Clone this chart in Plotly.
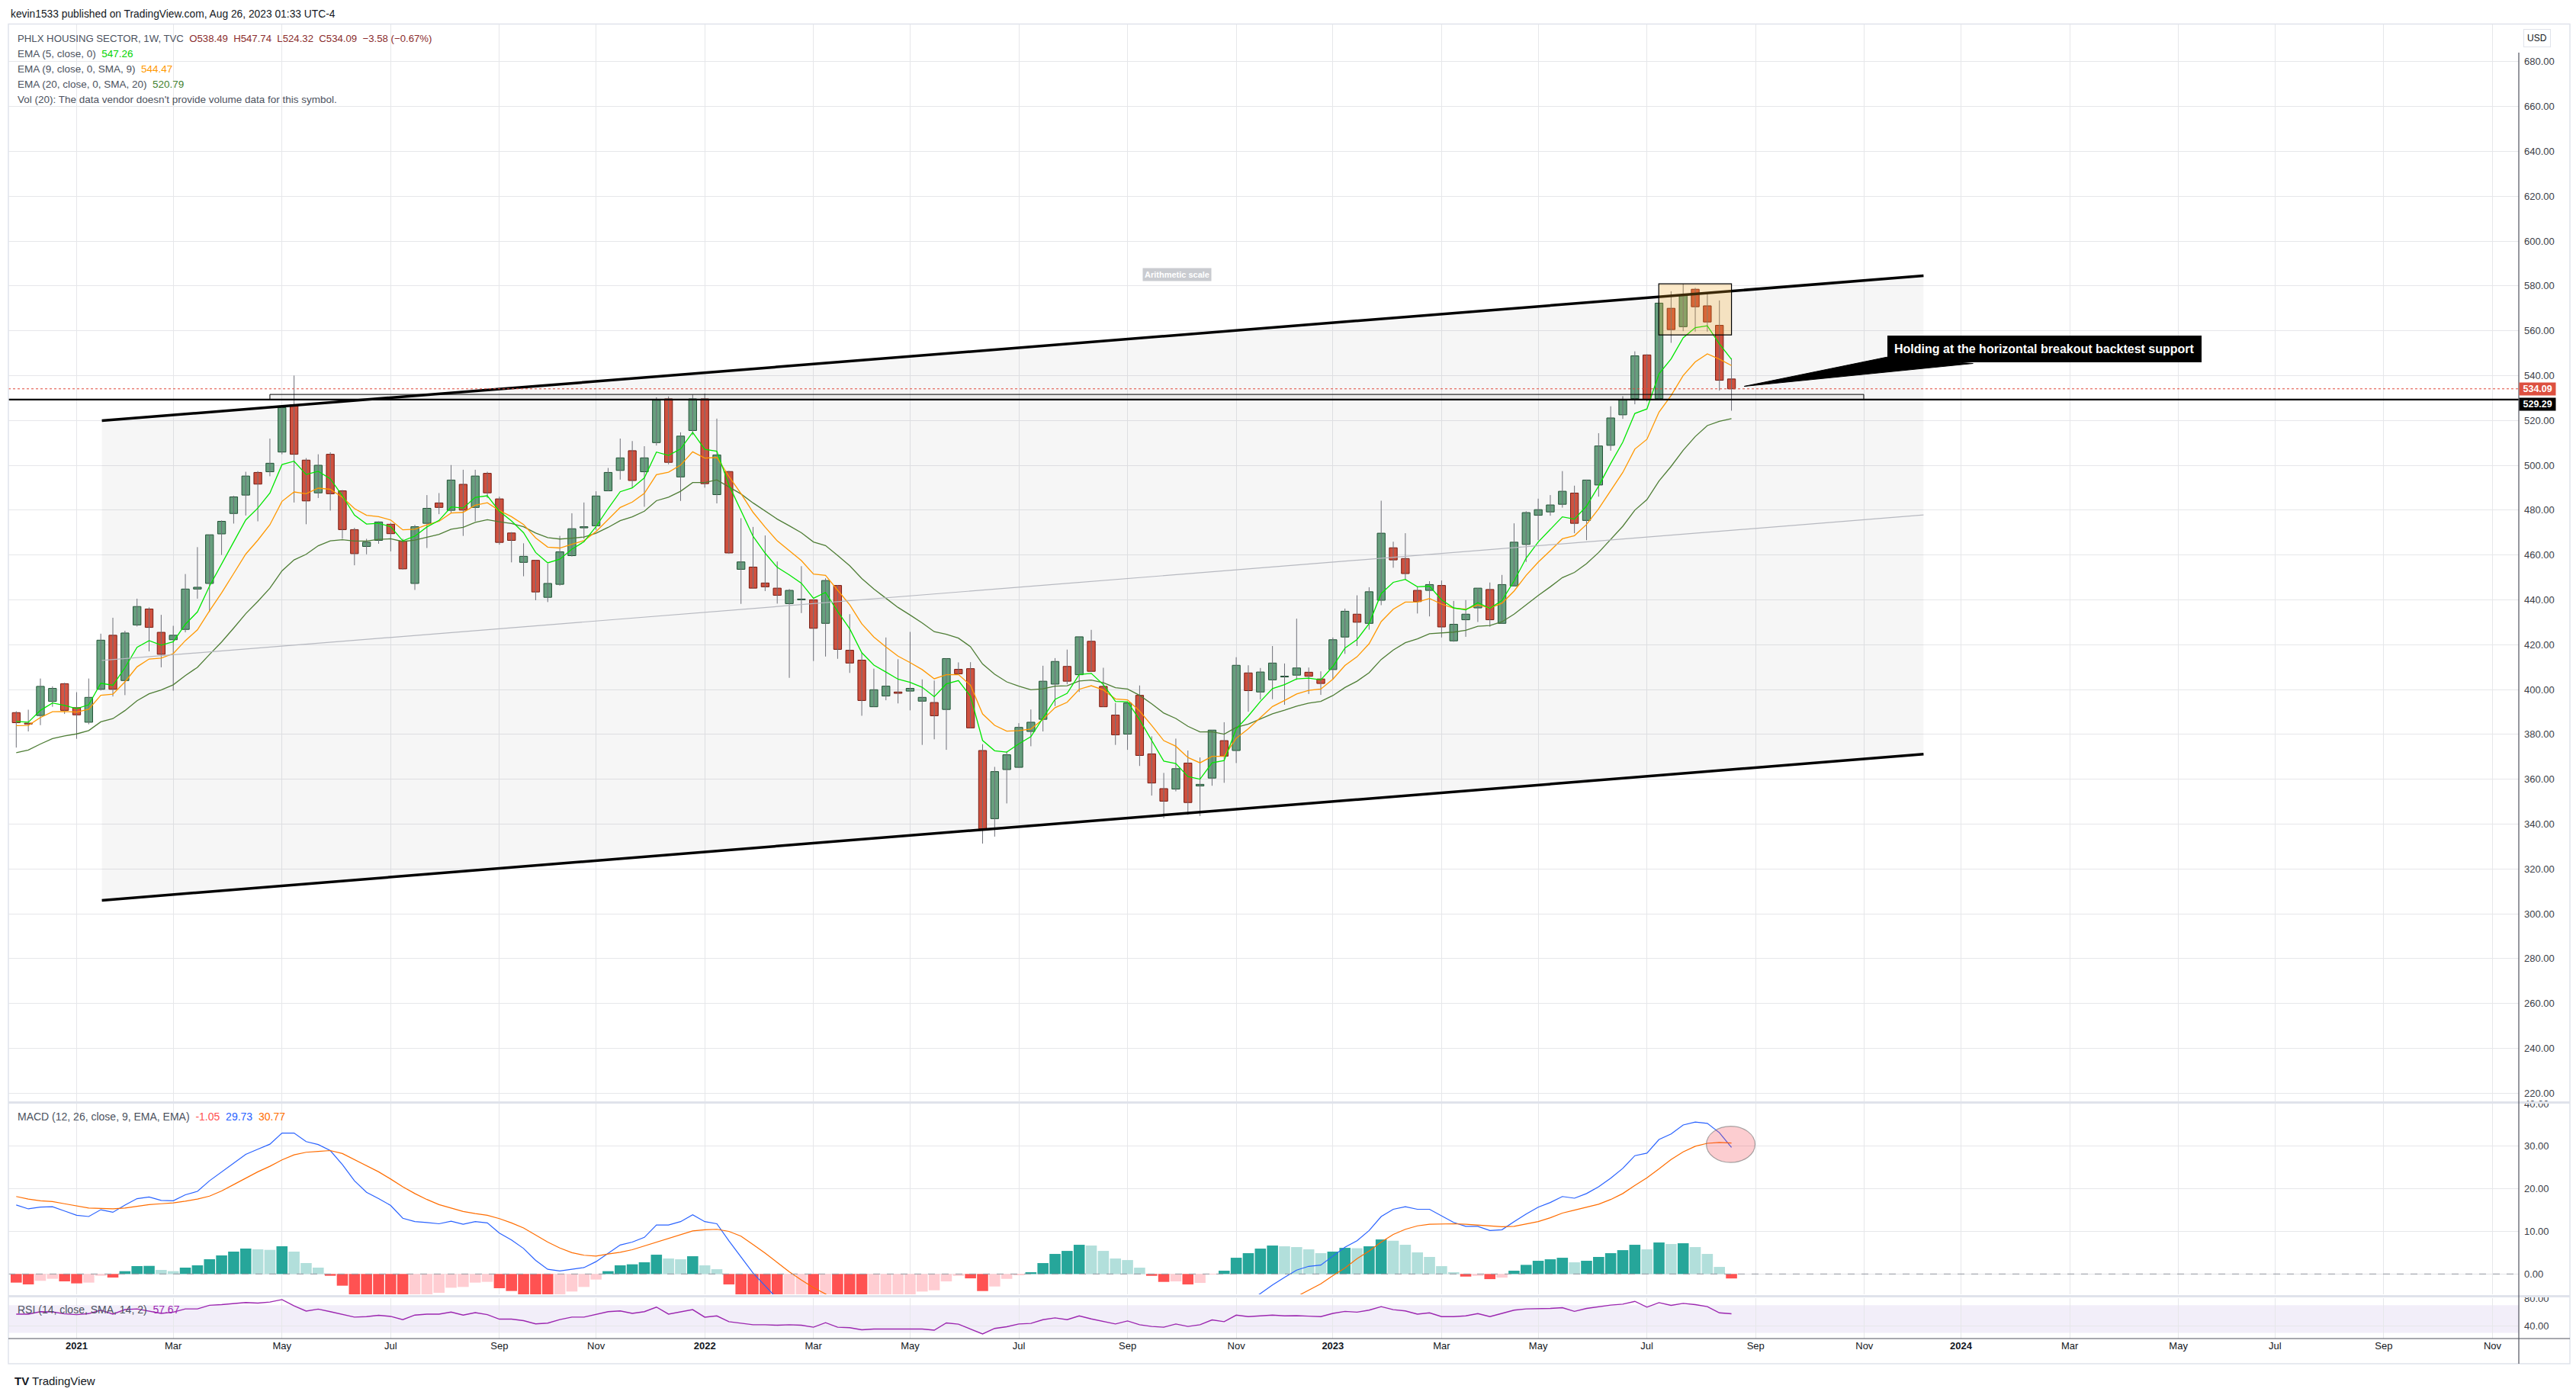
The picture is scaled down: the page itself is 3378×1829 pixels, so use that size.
import pandas as pd
import plotly.graph_objects as go

# ---------------------------------------------------------------- data
WEEK_START = "2020-11-30"      # first visible weekly bar (Monday)
N_BARS = 143
dates = pd.date_range(WEEK_START, periods=N_BARS, freq="7D")

opens = [
    389.7, 385.0, 388.4, 394.7, 402.6, 391.9, 385.4, 400.1, 424.2, 404.0,
    428.8, 435.9, 425.5, 422.2, 426.8, 444.8, 447.3, 469.4, 478.5, 486.7,
    496.8, 497.1, 505.9, 527.0, 502.3, 487.7, 504.9, 488.6, 471.3, 463.8,
    466.5, 473.7, 466.2, 447.3, 474.1, 483.2, 479.9, 491.5, 481.2, 496.4,
    485.0, 469.8, 456.7, 457.6, 441.1, 446.9, 459.7, 472.1, 473.0, 488.6,
    497.7, 506.5, 497.1, 510.1, 529.6, 494.8, 515.5, 529.6, 486.9, 497.2,
    453.6, 454.6, 447.5, 445.2, 438.3, 440.0, 440.0, 429.5, 446.4, 417.5,
    413.1, 392.3, 397.1, 398.9, 399.3, 394.8, 394.2, 391.1, 409.0, 409.3,
    372.8, 342.4, 364.3, 365.3, 381.3, 386.7, 402.4, 410.3, 406.6, 421.5,
    401.4, 388.6, 380.1, 397.4, 371.3, 355.8, 355.6, 367.2, 357.0, 360.5,
    377.2, 372.8, 407.4, 398.9, 404.3, 405.6, 406.4, 407.7, 404.7, 408.9,
    423.4, 433.6, 429.5, 439.8, 463.2, 458.4, 444.2, 444.2, 446.4, 421.7,
    431.1, 436.4, 444.6, 429.5, 446.2, 464.7, 477.7, 479.2, 482.6, 487.6,
    475.4, 491.2, 508.9, 522.5, 529.7, 549.2, 529.7, 570.0, 561.8, 578.5,
    571.1, 562.4, 538.49,
]
highs = [
    390.3, 391.0, 404.9, 401.4, 403.0, 398.8, 404.9, 424.9, 432.0, 426.2,
    440.5, 436.6, 433.3, 428.4, 451.5, 463.5, 469.0, 475.4, 486.4, 497.1,
    497.4, 511.9, 526.0, 540.0, 503.2, 504.9, 505.8, 489.0, 472.1, 467.2,
    475.0, 474.3, 467.2, 473.4, 486.7, 487.6, 500.1, 498.0, 498.0, 497.1,
    486.0, 470.2, 465.2, 457.6, 456.1, 468.5, 478.6, 483.4, 488.4, 498.8,
    511.9, 510.8, 508.5, 530.3, 530.7, 514.7, 531.5, 532.0, 520.8, 497.5,
    476.4, 472.5, 468.7, 457.1, 444.8, 455.0, 440.2, 449.6, 446.5, 433.6,
    416.3, 409.3, 423.2, 413.5, 425.7, 404.5, 404.0, 413.8, 412.1, 412.2,
    375.6, 365.5, 372.5, 385.0, 391.1, 410.6, 414.0, 417.8, 423.5, 426.6,
    409.7, 394.0, 394.0, 401.8, 379.1, 362.8, 378.1, 372.8, 369.7, 381.9,
    385.4, 414.4, 410.8, 409.6, 419.4, 411.6, 431.6, 409.8, 408.1, 423.2,
    436.1, 442.0, 445.6, 484.2, 465.9, 469.7, 445.8, 448.3, 448.6, 439.5,
    439.9, 445.2, 447.7, 451.1, 474.1, 479.5, 485.1, 486.7, 497.4, 490.9,
    493.6, 514.3, 526.3, 530.8, 550.8, 549.5, 573.2, 577.6, 580.9, 579.1,
    576.8, 573.5, 547.74,
]
lows = [
    374.1, 381.3, 384.1, 392.3, 389.1, 378.0, 384.5, 399.5, 396.9, 397.5,
    428.1, 417.0, 409.9, 399.5, 425.5, 440.5, 434.6, 460.0, 474.0, 477.6,
    475.0, 495.1, 504.9, 483.4, 473.7, 485.4, 479.8, 467.2, 455.4, 460.3,
    465.0, 461.6, 453.5, 444.4, 463.1, 478.2, 478.9, 468.5, 475.0, 485.4,
    464.6, 456.7, 450.5, 439.8, 439.0, 446.3, 459.3, 467.2, 471.1, 488.4,
    493.6, 490.0, 481.5, 508.8, 500.4, 484.1, 513.5, 490.0, 483.0, 460.5,
    438.2, 445.0, 443.9, 438.3, 405.2, 434.1, 412.7, 414.7, 413.7, 407.4,
    388.3, 392.3, 395.2, 393.8, 390.7, 375.3, 377.8, 373.1, 406.8, 382.9,
    331.3, 334.4, 349.2, 365.0, 374.7, 381.3, 392.6, 402.4, 398.9, 407.8,
    392.3, 375.3, 373.1, 365.9, 352.7, 342.6, 354.6, 344.1, 343.6, 357.1,
    358.4, 367.2, 390.1, 395.5, 395.7, 393.2, 404.3, 398.0, 397.6, 404.5,
    415.9, 419.4, 426.7, 437.6, 454.3, 449.0, 433.9, 432.6, 423.2, 421.3,
    423.5, 430.1, 428.0, 429.5, 446.2, 456.9, 466.6, 477.5, 481.1, 469.7,
    466.6, 486.0, 506.5, 520.7, 527.2, 528.5, 529.0, 554.6, 559.8, 559.6,
    559.6, 533.3, 524.32,
]
closes = [
    385.2, 384.6, 401.4, 400.5, 390.7, 388.7, 396.5, 422.0, 400.1, 425.2,
    437.0, 427.7, 415.7, 424.2, 444.8, 445.6, 469.0, 475.0, 485.9, 495.2,
    491.6, 500.9, 525.7, 504.9, 484.1, 500.0, 487.3, 471.3, 460.6, 465.7,
    474.7, 469.5, 453.8, 472.6, 480.8, 481.2, 493.4, 480.0, 495.2, 487.7,
    465.6, 466.5, 459.4, 443.5, 447.3, 461.4, 471.7, 472.6, 486.3, 496.8,
    503.3, 493.2, 503.3, 529.0, 501.3, 513.0, 529.6, 491.8, 504.6, 460.9,
    456.9, 445.2, 445.8, 442.0, 444.2, 440.1, 427.3, 448.6, 417.9, 411.8,
    395.1, 399.9, 401.5, 398.3, 400.5, 396.5, 388.3, 413.8, 407.0, 382.9,
    337.9, 363.4, 370.9, 383.1, 385.4, 403.7, 412.5, 403.7, 423.5, 408.1,
    392.3, 379.8, 394.0, 370.6, 358.3, 350.2, 364.7, 349.6, 357.7, 381.9,
    370.3, 410.8, 399.5, 407.8, 411.8, 405.9, 409.6, 405.9, 402.7, 422.2,
    434.9, 430.0, 443.6, 469.7, 457.8, 451.7, 439.2, 446.8, 427.9, 429.1,
    433.6, 445.2, 431.1, 446.8, 465.7, 478.9, 480.2, 482.3, 488.4, 474.1,
    493.4, 508.6, 521.1, 529.4, 548.8, 529.2, 572.3, 560.5, 575.7, 570.7,
    563.9, 537.9, 534.09,
]
ema5 = [
    385.8, 385.4, 390.7, 394.0, 392.9, 391.5, 393.2, 402.8, 401.9, 409.7,
    418.8, 421.8, 419.8, 421.3, 429.1, 434.6, 446.1, 455.7, 465.8, 475.6,
    480.9, 487.6, 500.3, 501.8, 495.9, 497.3, 494.0, 486.4, 477.8, 473.8,
    474.1, 472.6, 466.3, 468.4, 472.5, 475.4, 481.4, 480.9, 485.7, 486.4,
    479.5, 475.2, 469.9, 461.1, 456.5, 458.1, 462.6, 465.9, 472.7, 480.7,
    488.2, 489.9, 494.4, 505.9, 504.4, 507.3, 514.7, 507.1, 506.3, 491.2,
    479.8, 468.3, 460.8, 454.5, 451.1, 447.4, 440.7, 443.3, 434.8, 427.1,
    416.4, 410.9, 407.8, 404.6, 403.2, 401.0, 396.8, 402.5, 404.0, 397.0,
    377.3, 372.7, 372.1, 375.8, 379.0, 387.2, 395.6, 398.3, 406.7, 407.2,
    402.2, 394.7, 394.5, 386.5, 377.1, 368.1, 367.0, 361.2, 360.0, 367.3,
    368.3, 382.5, 388.2, 394.7, 400.4, 402.2, 404.7, 405.1, 404.3, 410.3,
    418.5, 422.3, 429.4, 442.8, 447.8, 449.1, 445.8, 446.1, 440.0, 436.4,
    435.5, 438.7, 436.2, 439.7, 448.4, 458.6, 465.8, 471.3, 477.0, 476.0,
    481.8, 490.7, 500.8, 510.3, 523.1, 525.1, 540.8, 547.4, 556.8, 561.4,
    562.2, 554.1, 547.26,
]
ema9 = [
    383.9, 384.0, 387.5, 390.1, 390.2, 389.9, 391.2, 397.4, 397.9, 403.4,
    410.1, 413.6, 414.0, 416.0, 421.8, 426.6, 435.1, 443.1, 451.7, 460.4,
    466.6, 473.5, 483.9, 488.1, 487.3, 489.8, 489.3, 485.7, 480.7, 477.7,
    477.1, 475.6, 471.2, 471.5, 473.4, 475.0, 478.7, 479.0, 482.2, 483.3,
    479.8, 477.1, 473.6, 467.6, 463.5, 463.1, 464.8, 466.4, 470.4, 475.7,
    481.2, 483.6, 487.5, 495.8, 496.9, 500.1, 506.0, 503.2, 503.5, 495.0,
    487.4, 479.0, 472.4, 466.3, 461.9, 457.5, 451.5, 450.9, 444.3, 437.8,
    429.3, 423.4, 419.0, 414.9, 412.0, 408.9, 404.8, 406.6, 406.7, 401.9,
    389.1, 384.0, 381.4, 381.7, 382.4, 386.7, 391.9, 394.3, 400.1, 401.7,
    399.8, 395.8, 395.4, 390.4, 384.0, 377.2, 374.7, 369.7, 367.3, 370.2,
    370.2, 378.3, 382.5, 387.6, 392.4, 395.1, 398.0, 399.6, 400.2, 404.6,
    410.7, 414.6, 420.4, 430.3, 435.8, 439.0, 439.0, 440.6, 438.1, 436.3,
    435.8, 437.7, 436.4, 438.5, 443.9, 450.9, 456.8, 461.9, 467.2, 468.6,
    473.6, 480.6, 488.7, 496.8, 507.2, 511.6, 523.7, 531.1, 540.0, 546.1,
    549.7, 547.3, 544.47,
]
ema20 = [
    371.8, 373.0, 375.7, 378.1, 379.3, 380.2, 381.7, 385.6, 387.0, 390.6,
    395.0, 398.1, 399.8, 402.1, 406.2, 409.9, 415.6, 421.2, 427.4, 433.8,
    439.3, 445.2, 452.9, 457.8, 460.3, 464.1, 466.3, 466.8, 466.2, 466.2,
    467.0, 467.2, 466.0, 466.6, 467.9, 469.2, 471.5, 472.3, 474.5, 475.7,
    474.8, 474.0, 472.6, 469.8, 467.7, 467.1, 467.5, 468.0, 469.7, 472.3,
    475.3, 477.0, 479.5, 484.2, 485.8, 488.4, 492.3, 492.3, 493.5, 490.4,
    487.2, 483.2, 479.6, 476.0, 473.0, 469.9, 465.8, 464.2, 459.8, 455.2,
    449.5, 444.8, 440.7, 436.6, 433.2, 429.7, 425.8, 424.6, 422.9, 419.1,
    411.4, 406.8, 403.4, 401.5, 399.9, 400.3, 401.5, 401.7, 403.8, 404.2,
    403.0, 400.8, 400.2, 397.4, 393.6, 389.5, 387.1, 383.6, 381.1, 381.2,
    380.1, 383.1, 384.6, 386.8, 389.2, 390.8, 392.6, 393.9, 394.7, 397.3,
    400.9, 403.7, 407.5, 413.4, 417.6, 420.9, 422.6, 424.9, 425.2, 425.6,
    426.4, 428.2, 428.5, 430.2, 433.6, 437.9, 441.9, 445.8, 449.9, 452.2,
    456.1, 461.1, 466.8, 472.8, 480.0, 484.7, 493.0, 499.5, 506.7, 512.8,
    517.7, 519.6, 520.79,
]
macd_line = [
    16.2, 15.3, 15.7, 15.8, 14.8, 13.8, 13.5, 15.1, 14.5, 16.2,
    17.7, 18.1, 17.3, 17.2, 18.6, 19.4, 21.9, 24.0, 26.0, 28.1,
    29.3, 30.5, 33.1, 33.1, 31.1, 30.4, 29.0, 25.7, 21.9, 19.2,
    17.7, 16.1, 13.1, 12.3, 12.1, 11.8, 12.4, 11.7, 12.3, 12.0,
    9.6, 8.0, 6.0, 3.2, 1.1, 0.7, 1.1, 1.5, 2.9, 4.8,
    6.8, 7.5, 8.6, 11.5, 11.5, 12.3, 13.9, 12.3, 11.8, 7.8,
    3.9, 0.2, -2.8, -5.8, -7.5, -8.9, -11.2, -12.3, -14.8, -17.1,
    -20.3, -21.8, -22.8, -23.6, -24.0, -23.5, -24.2, -22.4, -21.3, -22.2,
    -25.9, -25.7, -24.6, -23.6, -22.9, -20.4, -17.4, -15.7, -12.9, -11.7,
    -11.8, -13.0, -12.8, -14.3, -16.3, -17.9, -17.6, -18.5, -18.2, -16.1,
    -14.7, -10.5, -6.5, -4.6, -2.6, -0.8, 0.9, 1.8, 2.1, 4.2,
    6.3, 7.8, 10.2, 13.5, 15.2, 15.8, 15.2, 15.2, 13.6, 12.1,
    11.2, 11.2, 10.2, 10.4, 12.3, 14.1, 15.7, 16.8, 18.2, 17.8,
    18.9, 20.5, 22.5, 24.8, 27.8, 28.4, 31.6, 32.9, 35.0, 35.7,
    35.4, 33.2, 29.73,
]
macd_signal = [
    18.2, 17.6, 17.2, 17.0, 16.5, 16.0, 15.5, 15.4, 15.3, 15.5,
    15.9, 16.3, 16.5, 16.7, 17.1, 17.6, 18.3, 19.5, 21.0, 22.5,
    24.0, 25.3, 26.8, 28.0, 28.6, 28.8, 29.0, 28.3, 26.9, 25.4,
    24.0, 22.3, 20.5, 18.9, 17.5, 16.3, 15.5, 14.7, 14.2, 13.8,
    13.0, 12.0, 10.8, 9.1, 7.5, 6.1, 5.0, 4.4, 4.2, 4.7,
    5.1, 5.7, 6.6, 7.5, 8.4, 9.2, 10.1, 10.4, 10.5, 10.0,
    8.9, 6.9, 4.9, 2.7, 0.5, -1.4, -3.2, -4.7, -6.7, -8.7,
    -11.0, -13.2, -15.1, -16.8, -18.1, -19.4, -20.4, -20.7, -20.9, -21.2,
    -21.9, -22.8, -23.4, -23.4, -23.3, -22.9, -22.1, -21.1, -19.7, -18.4,
    -17.2, -16.6, -16.1, -15.8, -15.9, -16.0, -15.9, -16.0, -16.1, -16.0,
    -15.6, -14.3, -12.6, -11.0, -9.3, -7.6, -5.3, -3.8, -2.3, -0.4,
    1.4, 3.6, 5.4, 7.5, 9.3, 10.5, 11.3, 11.7, 11.8, 11.8,
    11.7, 11.5, 11.2, 11.1, 11.2, 11.7, 12.3, 13.2, 14.3, 15.0,
    15.7, 16.4, 17.5, 18.9, 20.8, 22.6, 24.7, 26.9, 28.7, 30.0,
    30.7, 30.9, 30.77,
]
macd_hist = [
    -2.03, -2.45, -1.61, -1.13, -1.73, -2.21, -2.03, -0.42, -0.84, 0.66,
    1.85, 1.90, 0.96, 0.66, 1.49, 2.03, 3.46, 4.36, 5.26, 5.97,
    5.79, 5.67, 6.51, 5.26, 2.57, 1.49, -0.42, -2.75, -5.0, -6.2,
    -6.5, -6.8, -7.4, -6.6, -5.4, -4.42, -3.23, -3.05, -2.03, -1.85,
    -3.35, -4.0, -4.8, -5.9, -6.4, -5.4, -4.12, -3.05, -1.31, 0.66,
    2.03, 2.27, 2.75, 4.53, 3.63, 3.45, 4.17, 2.02, 1.12, -2.46,
    -5.2, -6.7, -7.7, -8.5, -8.0, -7.5, -8.0, -7.6, -8.2, -8.8,
    -9.5, -9.0, -8.3, -7.4, -6.0, -4.13, -3.83, -1.74, -0.43, -1.03,
    -4.01, -2.94, -1.15, -0.15, 0.41, 2.56, 4.71, 5.42, 6.86, 6.68,
    5.42, 3.63, 3.27, 1.48, -0.43, -1.86, -1.74, -2.46, -2.10, -0.10,
    0.77, 3.81, 4.89, 5.96, 6.68, 6.50, 6.32, 5.78, 4.89, 5.25,
    6.14, 6.05, 6.50, 8.11, 7.81, 6.86, 5.07, 4.00, 1.84, 0.41,
    -0.61, -0.43, -1.21, -0.85, 0.77, 2.14, 3.10, 3.45, 3.81, 2.74,
    3.10, 4.00, 4.89, 5.60, 6.86, 5.78, 7.40, 7.04, 7.22, 6.32,
    4.71, 1.66, -1.05,
]
rsi = [
    57.1, 57.1, 60.7, 60.4, 57.5, 56.4, 57.8, 62.9, 57.1, 63.7,
    64.7, 61.8, 58.2, 60.0, 64.7, 64.7, 69.9, 70.9, 72.8, 73.9,
    73.1, 74.6, 78.2, 69.1, 61.5, 64.4, 60.7, 56.4, 52.7, 53.5,
    55.3, 53.8, 49.1, 55.7, 57.1, 57.1, 60.0, 55.7, 59.3, 56.4,
    49.8, 49.8, 47.6, 42.9, 44.0, 49.1, 52.7, 52.7, 57.1, 60.7,
    61.8, 58.2, 60.7, 67.3, 57.1, 60.0, 63.6, 52.7, 54.5, 46.1,
    44.3, 41.7, 41.7, 41.0, 41.7, 41.0, 38.1, 44.7, 38.1, 37.4,
    34.4, 35.5, 35.5, 35.5, 36.3, 35.5, 33.7, 44.3, 42.5, 35.2,
    28.3, 36.3, 38.8, 42.8, 43.6, 49.0, 51.6, 49.0, 54.5, 50.1,
    46.1, 42.8, 47.2, 41.7, 39.2, 38.1, 42.8, 39.2, 41.7, 48.7,
    46.1, 55.6, 53.4, 54.5, 55.6, 54.5, 54.9, 54.1, 53.4, 58.1,
    61.1, 60.0, 62.9, 68.0, 63.6, 61.8, 57.0, 58.9, 53.4, 53.4,
    54.5, 57.8, 53.4, 58.1, 62.9, 64.7, 64.7, 65.4, 66.5, 61.1,
    65.4, 68.0, 70.2, 71.6, 75.6, 67.2, 73.8, 69.8, 72.7, 70.9,
    68.0, 58.9, 57.67,
]

tick_dates = [
    "2021-01-04", "2021-03-01", "2021-05-03", "2021-07-05", "2021-09-06", "2021-11-01",
    "2022-01-03", "2022-03-07", "2022-05-02", "2022-07-04", "2022-09-05", "2022-11-07",
    "2023-01-02", "2023-03-06", "2023-05-01", "2023-07-03", "2023-09-04", "2023-11-06",
    "2024-01-01", "2024-03-04", "2024-05-06", "2024-07-01", "2024-09-02", "2024-11-04",
]
tick_labels = [
    "2021", "Mar", "May", "Jul", "Sep", "Nov",
    "2022", "Mar", "May", "Jul", "Sep", "Nov",
    "2023", "Mar", "May", "Jul", "Sep", "Nov",
    "2024", "Mar", "May", "Jul", "Sep", "Nov",
]
price_ticks = [220, 240, 260, 280, 300, 320, 340, 360, 380, 400, 420, 440,
               460, 480, 500, 520, 540, 560, 580, 600, 620, 640, 660, 680]
macd_ticks = [0, 10, 20, 30, 40]
rsi_ticks = [40, 80]

LAST_PRICE = 534.09
HLINE_PRICE = 529.29

# ---------------------------------------------------------- drawing geometry
# (week offsets from the 2021-01-04 bar, prices / indicator values)
CH_WEEKS = (2.09, 152.9)
CH_UPPER = (519.9, 584.5)
CH_LOWER = (306.0, 371.2)
ZONE_WEEKS = (16.0, 147.95)
ZONE_PRICES = (529.3, 531.6)
BOX_WEEKS = (130.98, 137.0)
BOX_PRICES = (558.1, 580.9)
ELL_WEEKS = (134.92, 138.95)
ELL_VALUES = (26.2, 34.7)
CALLOUT_POS = (162.9, 551.9)
WEDGE_WEEKS = (138.05, 149.84, 157.0)
WEDGE_PRICES = (535.2, 548.2, 545.4)
ARITH_POS = (91.1, 585.2)

# ------------------------------------------------------------- layout helpers
W, H = 3378, 1829
PL, PR, PT, PB = 11, 3303, 32, 1755
BASE = pd.Timestamp("2021-01-04")
WEEK_MS = 7 * 24 * 3600 * 1000
FONT = "Liberation Sans, Arial, sans-serif"
GRID = "#e6e7ea"
TXT = "#131722"
LEG = "#4c525e"
NB = "\u00a0"


def wk(n):
    return BASE + pd.Timedelta(weeks=n)


def px(x):
    return (x - PL) / (PR - PL)


def py(y):
    return (PB - y) / (PB - PT)


fig = go.Figure()

# channel fill (parallelogram)
cx0, cx1 = wk(CH_WEEKS[0]), wk(CH_WEEKS[1])
fig.add_trace(go.Scatter(
    x=[cx0, cx1, cx1, cx0, cx0],
    y=[CH_UPPER[0], CH_UPPER[1], CH_LOWER[1], CH_LOWER[0], CH_UPPER[0]],
    mode="lines", fill="toself", fillcolor="rgba(0,0,0,0.035)",
    line=dict(width=0), hoverinfo="skip", xaxis="x", yaxis="y"))

# wicks
wx, wy = [], []
for d, h, l in zip(dates, highs, lows):
    wx += [d, d, None]
    wy += [l, h, None]
fig.add_trace(go.Scatter(x=wx, y=wy, mode="lines",
                         line=dict(color="#6f7079", width=1),
                         hoverinfo="skip", xaxis="x", yaxis="y"))

# candle bodies
is_up = [c >= o for o, c in zip(opens, closes)]
body_base = [min(o, c) for o, c in zip(opens, closes)]
body_h = [max(abs(c - o), 0.35) for o, c in zip(opens, closes)]
fig.add_trace(go.Bar(
    x=dates, y=body_h, base=body_base, width=0.65 * WEEK_MS,
    marker=dict(color=["#6ba583" if u else "#d75442" for u in is_up],
                line=dict(color=["#225437" if u else "#7a1c12" for u in is_up], width=1)),
    hoverinfo="skip", xaxis="x", yaxis="y"))

# EMAs
fig.add_trace(go.Scatter(x=dates, y=ema20, mode="lines",
                         line=dict(color="#4e7d35", width=1.3), xaxis="x", yaxis="y"))
fig.add_trace(go.Scatter(x=dates, y=ema9, mode="lines",
                         line=dict(color="#ff9800", width=1.3), xaxis="x", yaxis="y"))
fig.add_trace(go.Scatter(x=dates, y=ema5, mode="lines",
                         line=dict(color="#00e600", width=1.3), xaxis="x", yaxis="y"))

# callout wedge
fig.add_trace(go.Scatter(
    x=[wk(w) for w in WEDGE_WEEKS] + [wk(WEDGE_WEEKS[0])],
    y=list(WEDGE_PRICES) + [WEDGE_PRICES[0]],
    mode="lines", fill="toself", fillcolor="#000000",
    line=dict(width=1, color="#000000"), hoverinfo="skip", xaxis="x", yaxis="y"))

# MACD histogram
hist_colors = []
prev = None
for v in macd_hist:
    if v >= 0:
        hist_colors.append("#26a69a" if (prev is None or v > prev) else "#b2dfdb")
    else:
        hist_colors.append("#ffcdd2" if (prev is not None and v > prev) else "#ff5252")
    prev = v
fig.add_trace(go.Bar(x=dates, y=macd_hist, width=0.92 * WEEK_MS,
                     marker=dict(color=hist_colors, line=dict(width=0)),
                     hoverinfo="skip", xaxis="x", yaxis="y2"))
fig.add_trace(go.Scatter(x=dates, y=macd_line, mode="lines",
                         line=dict(color="#2962ff", width=1.2), xaxis="x", yaxis="y2"))
fig.add_trace(go.Scatter(x=dates, y=macd_signal, mode="lines",
                         line=dict(color="#ff6d00", width=1.2), xaxis="x", yaxis="y2"))

# RSI
fig.add_trace(go.Scatter(x=dates, y=rsi, mode="lines",
                         line=dict(color="#9c27b0", width=1.4), xaxis="x", yaxis="y3"))

# ------------------------------------------------------------------ shapes
shapes = []
shapes.append(dict(type="rect", xref="paper", yref="y3", x0=0, x1=1, y0=30, y1=70,
                   fillcolor="rgba(126,87,194,0.10)", line=dict(width=0), layer="below"))
shapes.append(dict(type="line", xref="x", yref="y", x0=cx0, x1=cx1,
                   y0=CH_UPPER[0], y1=CH_UPPER[1], line=dict(color="#000000", width=3.5)))
shapes.append(dict(type="line", xref="x", yref="y", x0=cx0, x1=cx1,
                   y0=CH_LOWER[0], y1=CH_LOWER[1], line=dict(color="#000000", width=3.5)))
shapes.append(dict(type="line", xref="x", yref="y", x0=cx0, x1=cx1,
                   y0=(CH_UPPER[0] + CH_LOWER[0]) / 2, y1=(CH_UPPER[1] + CH_LOWER[1]) / 2,
                   line=dict(color="#b7b9c0", width=1.2)))
shapes.append(dict(type="rect", xref="x", yref="y", x0=wk(ZONE_WEEKS[0]), x1=wk(ZONE_WEEKS[1]),
                   y0=ZONE_PRICES[0], y1=ZONE_PRICES[1],
                   fillcolor="rgba(0,0,0,0.04)", line=dict(color="#000000", width=1)))
shapes.append(dict(type="line", xref="paper", yref="y", x0=0, x1=1,
                   y0=HLINE_PRICE, y1=HLINE_PRICE, line=dict(color="#000000", width=2.2)))
shapes.append(dict(type="line", xref="paper", yref="y", x0=0, x1=1,
                   y0=LAST_PRICE, y1=LAST_PRICE, line=dict(color="#e0483a", width=1, dash="dot")))
shapes.append(dict(type="rect", xref="x", yref="y", x0=wk(BOX_WEEKS[0]), x1=wk(BOX_WEEKS[1]),
                   y0=BOX_PRICES[0], y1=BOX_PRICES[1],
                   fillcolor="rgba(245,166,35,0.25)", line=dict(color="#000000", width=1.2)))
shapes.append(dict(type="line", xref="paper", yref="y2", x0=0, x1=1, y0=0, y1=0,
                   line=dict(color="#9598a1", width=1, dash="dash")))
shapes.append(dict(type="circle", xref="x", yref="y2", x0=wk(ELL_WEEKS[0]), x1=wk(ELL_WEEKS[1]),
                   y0=ELL_VALUES[0], y1=ELL_VALUES[1],
                   fillcolor="rgba(242,54,69,0.25)", line=dict(color="rgba(110,110,110,0.6)", width=1.2)))
XR = px(3370)
shapes.append(dict(type="rect", xref="paper", yref="paper", x0=0, x1=XR, y0=py(1788), y1=py(31.5),
                   line=dict(color="#e0e3eb", width=1.5), fillcolor="rgba(0,0,0,0)"))
for yy in (1445.5, 1699.5):
    shapes.append(dict(type="line", xref="paper", yref="paper", x0=0, x1=XR, y0=py(yy), y1=py(yy),
                       line=dict(color="#e0e3eb", width=3)))
shapes.append(dict(type="line", xref="paper", yref="paper", x0=0, x1=XR, y0=0, y1=0,
                   line=dict(color="#50535e", width=1.2)))
shapes.append(dict(type="line", xref="paper", yref="paper", x0=1, x1=1, y0=py(1788), y1=py(69),
                   line=dict(color="#50535e", width=1.2)))

# -------------------------------------------------------------- annotations
ann = []


def label(x, y, text, size=13.5, color=LEG, **kw):
    d = dict(xref="paper", yref="paper", x=px(x), y=py(y), text=text, showarrow=False,
             xanchor="left", yanchor="middle", font=dict(size=size, color=color, family=FONT))
    d.update(kw)
    ann.append(d)


label(12, 18, "kevin1533 published on TradingView.com, Aug 26, 2023 01:33 UTC-4", size=13.8, color=TXT)
label(21, 50.7, "PHLX HOUSING SECTOR, 1W, TVC  <span style='color:#8b2e2e'>O538.49  H547.74  "
                "L524.32  C534.09  −3.58 (−0.67%)</span>", size=13.2)
label(21, 70.7, "EMA (5, close, 0)  <span style='color:#00d400'>547.26</span>")
label(21, 90.3, "EMA (9, close, 0, SMA, 9)  <span style='color:#ff9800'>544.47</span>")
label(21, 110.2, "EMA (20, close, 0, SMA, 20)  <span style='color:#3f7f2f'>520.79</span>")
label(21, 130.2, "Vol (20): The data vendor doesn't provide volume data for this symbol.")
label(21, 1464, "MACD (12, 26, close, 9, EMA, EMA)  <span style='color:#ff5252'>-1.05</span>  "
                "<span style='color:#2962ff'>29.73</span>  <span style='color:#ff6d00'>30.77</span>",
      size=14)
label(21, 1716.5, "RSI (14, close, SMA, 14, 2)  <span style='color:#9c27b0'>57.67</span>", size=14)
label(17, 1810, "<b>TV</b> TradingView", size=15, color=TXT)
label(3309, 50.5, "USD", size=12, color=TXT, bgcolor="#ffffff", bordercolor="#e0e3eb",
      borderwidth=1, borderpad=4)

ann.append(dict(xref="x", yref="y", x=wk(ARITH_POS[0]), y=ARITH_POS[1],
                text="<b>Arithmetic scale</b>", showarrow=False,
                font=dict(size=11, color="#ffffff", family=FONT),
                bgcolor="#c9cbd0", borderpad=2))
ann.append(dict(xref="x", yref="y", x=wk(CALLOUT_POS[0]), y=CALLOUT_POS[1],
                text="<b>Holding at the horizontal breakout backtest support</b>", showarrow=False,
                font=dict(size=16, color="#ffffff", family=FONT),
                bgcolor="#000000", bordercolor="#000000", borderwidth=1, borderpad=8))
ann.append(dict(xref="paper", yref="y", x=1, y=LAST_PRICE, xanchor="left", yanchor="middle",
                text=NB + "<b>%.2f</b>" % LAST_PRICE + NB, showarrow=False,
                font=dict(size=12.5, color="#ffffff", family=FONT),
                bgcolor="#dd5040", borderpad=1))
ann.append(dict(xref="paper", yref="y", x=1, y=HLINE_PRICE, xanchor="left", yanchor="middle",
                text=NB + "<b>%.2f</b>" % HLINE_PRICE + NB, showarrow=False, yshift=-6,
                font=dict(size=12.5, color="#ffffff", family=FONT),
                bgcolor="#000000", borderpad=1))

axis_font = dict(size=13, color="#3b3e48", family=FONT)
yaxis_common = dict(side="right", anchor="x", tickformat=".2f", showgrid=True, gridcolor=GRID,
                    gridwidth=1, zeroline=False, ticks="", showline=False, tickfont=axis_font,
                    ticklabelstandoff=6, fixedrange=True)

fig.update_layout(
    width=W, height=H,
    margin=dict(l=PL, r=W - PR, t=PT, b=H - PB, pad=0),
    paper_bgcolor="#ffffff", plot_bgcolor="#ffffff",
    showlegend=False, hovermode=False, barmode="overlay",
    font=dict(family=FONT, size=13, color=TXT),
    xaxis=dict(type="date", range=[wk(-5.65), wk(202.18)], domain=[0, 1], anchor="y3",
               tickvals=tick_dates,
               ticktext=["<b>%s</b>" % t if t.isdigit() else t for t in tick_labels],
               showgrid=True, gridcolor=GRID, gridwidth=1, ticks="", showline=False,
               zeroline=False, tickfont=dict(size=13, color=TXT, family=FONT),
               rangeslider=dict(visible=False)),
    yaxis=dict(domain=[py(1445), 1], range=[216.0, 696.6], tickvals=price_ticks, **yaxis_common),
    yaxis2=dict(domain=[py(1697), py(1447)], range=[-4.78, 40.02], tickvals=macd_ticks, **yaxis_common),
    yaxis3=dict(domain=[0, py(1702)], range=[21.6, 80.3], tickvals=rsi_ticks, **yaxis_common),
    shapes=shapes,
    annotations=ann,
)

fig.write_html("out.html", config={"displayModeBar": False},
               post_script="document.body.style.margin='0';document.body.style.overflow='hidden';")
